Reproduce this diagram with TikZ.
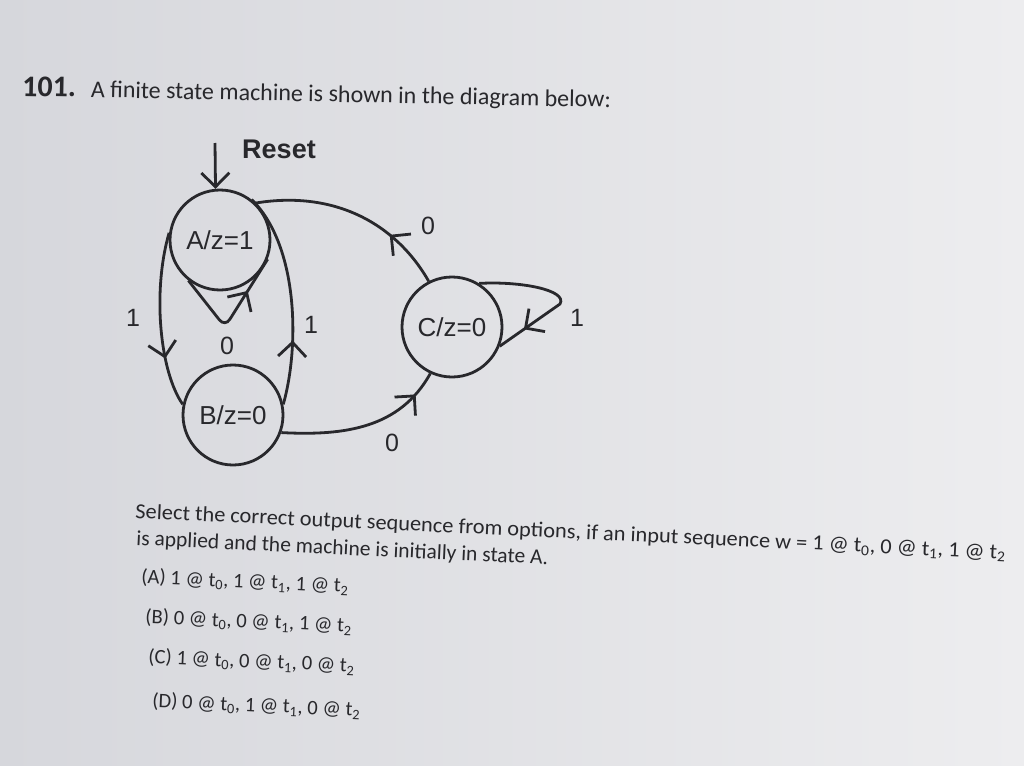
\documentclass[tikz,border=0pt]{standalone}
\usepackage{fontspec}
\setmainfont{Carlito}
\newfontfamily\diagfont{Liberation Sans}
\usetikzlibrary{arrows.meta, decorations.markings}

\definecolor{ink}{RGB}{40,40,44}
\definecolor{paperleft}{RGB}{214,215,220}
\definecolor{paperright}{RGB}{237,237,239}

\tikzstyle{state} = [circle, draw=ink, line width=2.8pt, minimum size=100pt, inner sep=0pt, text=ink, font=\diagfont\fontsize{26}{30}\selectfont]
\tikzstyle{trans} = [draw=ink, line width=2.8pt]
\tikzstyle{lbl} = [text=ink, font=\diagfont\fontsize{25}{30}\selectfont]
\tikzstyle{arrow} = [trans, -{Straight Barb[length=14pt,width=28pt]}]
\tikzstyle{txt} = [anchor=base west, inner sep=0pt, text=ink, font=\fontsize{21.5}{27}\selectfont]
\tikzstyle{opt} = [txt, rotate=-2.6, font=\fontsize{20.6}{25}\selectfont]
\tikzset{midarrow/.style={postaction={decorate, decoration={markings, mark=at position #1 with {\arrow{Straight Barb[length=14pt,width=28pt]}}}}}}

\begin{document}
\begin{tikzpicture}[x=1pt, y=1pt]
        \shade [left color=paperleft, right color=paperright] (0,0) rectangle (1024,-765);
        \useasboundingbox (0,0) rectangle (1024,-765);

        % question heading
        \node (head) [txt, rotate=-1.1] at (22,-96) {{\bfseries\fontsize{30}{36}\selectfont 101.}\hspace{15pt}{\fontsize{24}{29}\selectfont A finite state machine is shown in the diagram below:}};

        % states
        \node (A) [state] at (220,-240) {A/z=1};
        \node (B) [state, below of=A, node distance=175pt, xshift=13pt] {B/z=0};
        \node (C) [state] at (452,-327) {C/z=0};

        % reset input
        \coordinate (rst) at (215,-143);
        \draw [arrow] (rst) -- (A.95);
        \node (reset) [lbl, font=\diagfont\bfseries\fontsize{27}{32}\selectfont] at (279,-149) {Reset};

        % transitions
        \draw [trans, midarrow=0.72, rounded corners=9pt] (A.232) -- (225,-327) -- (A.338);
        \node (l0a) [lbl] at (227,-346) {0};
        \draw [trans, midarrow=0.72] (A.172) .. controls (152,-292) and (160,-372) .. (B.168);
        \node (l1a) [lbl] at (133,-318) {1};
        \draw [trans, midarrow=0.3] (B.12) .. controls (300,-345) and (298,-245) .. (A.52);
        \node (l1b) [lbl] at (311,-325) {1};
        \draw [trans, midarrow=0.3] (C.117) .. controls (396,-224) and (335,-190) .. (A.46);
        \node (l0c) [lbl] at (428,-226) {0};
        \draw [trans, midarrow=0.85] (B.-20) .. controls (345,-436) and (400,-428) .. (C.-115);
        \node (l0b) [lbl] at (392,-443) {0};
        \draw [trans, midarrow=0.82] (C.58) .. controls (520,-281) and (568,-290) .. (560,-304) -- (C.-22);
        \node (l1c) [lbl] at (577,-318) {1};

        % question text
        \node (ask1) [txt, rotate=-2.7, xscale=1.04] at (135,-518) {Select the correct output sequence from options, if an input sequence w = 1 @ t\textsubscript{0}, 0 @ t\textsubscript{1}, 1 @ t\textsubscript{2}};
        \node (ask2) [txt, rotate=-2.7] at (136,-545) {is applied and the machine is initially in state A.};

        % options
        \node (optA) [opt] at (141,-583) {(A) 1 @ t\textsubscript{0}, 1 @ t\textsubscript{1}, 1 @ t\textsubscript{2}};
        \node (optB) [opt] at (145,-623) {(B) 0 @ t\textsubscript{0}, 0 @ t\textsubscript{1}, 1 @ t\textsubscript{2}};
        \node (optC) [opt] at (148,-663) {(C) 1 @ t\textsubscript{0}, 0 @ t\textsubscript{1}, 0 @ t\textsubscript{2}};
        \node (optD) [opt] at (152,-707) {(D) 0 @ t\textsubscript{0}, 1 @ t\textsubscript{1}, 0 @ t\textsubscript{2}};
      \end{tikzpicture}
\end{document}
